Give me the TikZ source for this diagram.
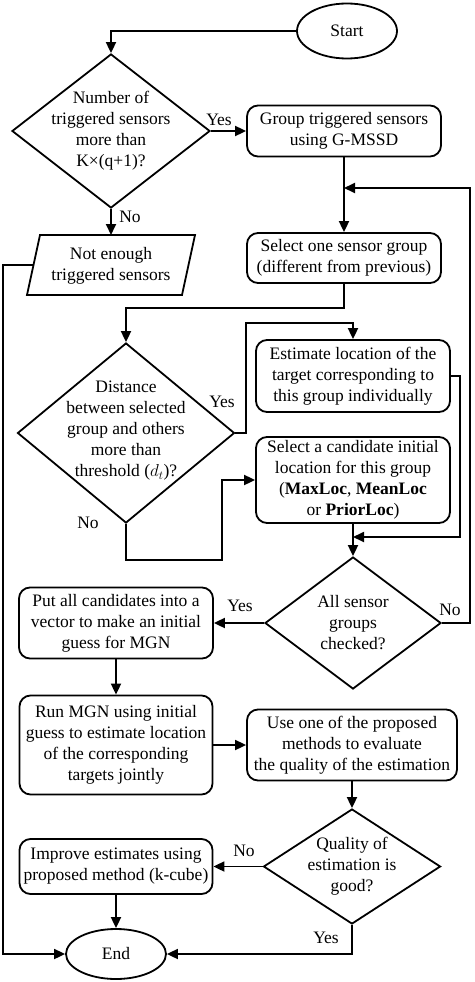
\documentclass[tikz,border=0pt]{standalone}
\usepackage{fontspec}
\setmainfont{Liberation Serif}
\usetikzlibrary{shapes.geometric,arrows.meta}
\begin{document}
\begin{tikzpicture}[x=1pt,y=-1pt,
  every node/.style={font=\fontsize{17.5}{21}\selectfont},
  box/.style={draw,line width=1.8pt,rounded corners=11pt,inner sep=0pt,align=center},
  dec/.style={draw,diamond,line width=1.8pt,inner sep=0pt},
  term/.style={draw,ellipse,line width=1.8pt,inner sep=0pt},
  txt/.style={inner sep=0pt,align=center},
  arr/.style={line width=1.8pt,-{Triangle[length=11pt,width=10pt]}},
  ln/.style={line width=1.8pt,line join=miter}]
\useasboundingbox (0,0) rectangle (474,982);
\fill[white] (0,0) rectangle (474,982);

% nodes
\node[term,minimum width=100pt,minimum height=55pt] (start) at (347,31) {Start};
\node[dec,minimum width=198pt,minimum height=154pt] (d1) at (111,131) {};
\node[txt] (d1t) at (111,131) {Number of\\triggered sensors\\more than\\K×(q+1)?};
\node[box,minimum width=194pt,minimum height=51pt] (b2) at (344,131) {Group triggered sensors\\using G-MSSD};
\node[box,minimum width=194pt,minimum height=50pt] (b3) at (344,258) {Select one sensor group\\(different from previous)};

\coordinate (p1) at (40,235);
\coordinate (p2) at (195,235);
\coordinate (p3) at (182,295);
\coordinate (p4) at (27,295);
\draw[ln] (p1) -- (p2) -- (p3) -- (p4) -- cycle;
\node[txt] (np) at (111,265.5) {Not enough\\triggered sensors};
\coordinate (ptop) at (111,235);
\coordinate (pl) at (33.5,265);

\node[dec,minimum width=217pt,minimum height=180pt] (d2) at (126,433) {};
\node[txt] (d2t) at (126,431) {Distance\\between selected\\group and others\\more than\\threshold ($d_t$)?};
\node[box,minimum width=194pt,minimum height=72pt] (b4) at (353,376) {Estimate location of the\\target corresponding to\\this group individually};
\node[box,minimum width=194pt,minimum height=86pt] (b5) at (353,480) {Select a candidate initial\\location for this group\\(\textbf{MaxLoc}, \textbf{MeanLoc}\\or \textbf{PriorLoc})};
\node[dec,minimum width=176pt,minimum height=132pt] (d3) at (353,623) {};
\node[txt] (d3t) at (353,623) {All sensor\\groups\\checked?};
\node[box,minimum width=194pt,minimum height=71pt] (b6) at (116,623) {Put all candidates into a\\vector to make an initial\\guess for MGN};
\node[box,minimum width=193pt,minimum height=99pt] (b7) at (116,745) {Run MGN using initial\\guess to estimate location\\of the corresponding\\targets jointly};
\node[box,minimum width=210pt,minimum height=71pt] (b8) at (352,745) {Use one of the proposed\\methods to evaluate\\the quality of the estimation};
\node[dec,minimum width=177pt,minimum height=115pt] (d4) at (352,866.5) {};
\node[txt] (d4t) at (352,866.5) {Quality of\\estimation is\\good?};
\node[box,minimum width=193pt,minimum height=55pt] (b9) at (116,866.5) {Improve estimates using\\proposed method (k-cube)};
\node[term,minimum width=100pt,minimum height=50pt] (end) at (116,954) {End};

% labels
\node[txt] (l1) at (219,120) {Yes};
\node[txt] (l2) at (130,217) {No};
\node[txt] (l3) at (222,402) {Yes};
\node[txt] (l4) at (88,523) {No};
\node[txt] (l5) at (240,606) {Yes};
\node[txt] (l6) at (450,610) {No};
\node[txt] (l7) at (244,851) {No};
\node[txt] (l8) at (326,938) {Yes};

% helper coordinates
\coordinate (m1) at (344,188);
\coordinate (loopR) at (470,188);
\coordinate (c1) at (126,308);
\coordinate (c2) at (246,323);
\coordinate (m2) at (353,537);
\coordinate (c3) at (460,537);
\coordinate (c4) at (222,560);
\coordinate (c5) at (3,265);

% connectors
\draw[arr] (start.west) -| (d1.north);
\draw[arr] (d1.east) -- (b2.west);
\draw[arr] (d1.south) -- (ptop);
\draw[arr] (b2.south) -- (b3.north);
\draw[arr,line join=miter] (d3.east) -| (loopR) -- (m1);
\draw[arr,line join=miter] (b3.south) |- (c1) -- (d2.north);
\draw[arr,line join=miter] (d2.east) -| (c2) -| (b4.north);
\draw[arr,line join=miter] (b4.east) -| (c3) -- (m2);
\draw[arr,line join=miter] (d2.south) |- (c4) |- (b5.west);
\draw[arr] (b5.south) -- (d3.north);
\draw[arr] (d3.west) -- (b6.east);
\draw[arr] (b6.south) -- (b7.north);
\draw[arr] (b7.east) -- (b8.west);
\draw[arr] (b8.south) -- (d4.north);
\draw[arr] (d4.west) -- (b9.east);
\draw[arr] (b9.south) -- (end.north);
\draw[arr,line join=miter] (d4.south) |- (end.east);
\draw[arr,line join=miter] (pl) -- (c5) |- (end.west);
\end{tikzpicture}
\end{document}
